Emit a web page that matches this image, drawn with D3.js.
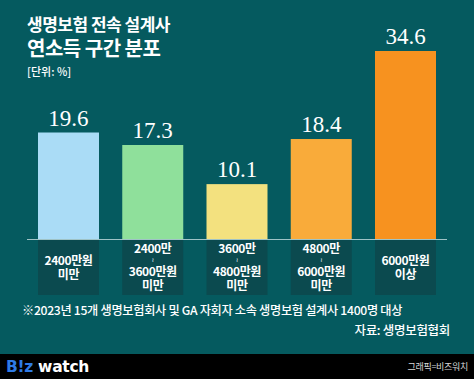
<!DOCTYPE html>
<html><head><meta charset="utf-8">
<script src="https://cdn.jsdelivr.net/npm/d3@7"></script>
<style>
html,body{margin:0;padding:0;background:#055a5f;}
svg{display:block;}
</style></head>
<body>
<svg id="chart" width="474" height="379"></svg>
<script>
const categories = ["c1","c2","c3","c4","c5"];
const values = [19.6, 17.3, 10.1, 18.4, 34.6];
const valueLabels = ["19.6","17.3","10.1","18.4","34.6"];
const categoryLabels = [
  ["2400만원","미만"],
  ["2400만","≀","3600만원","미만"],
  ["3600만","≀","4800만원","미만"],
  ["4800만","≀","6000만원","미만"],
  ["6000만원","이상"]
];
const barColors = ["#aadcf6","#8fe09b","#f3e17f","#f9ab3a","#f7921f"];
const titleLines = ["생명보험 전속 설계사","연소득 구간 분포"];
const unitText = "[단위: %]";
const noteText = "※2023년 15개 생명보험회사 및 GA 자회자 소속 생명보험 설계사 1400명 대상";
const sourceText = "자료: 생명보험협회";
const creditText = "그래픽=비즈워치";

const W = 474, H = 379;
const svg = d3.select("#chart");
const sans = "'Noto Sans CJK KR','Noto Sans',sans-serif";

svg.append("rect").attr("width", W).attr("height", H).attr("fill", "#055a5f");

// title
svg.append("text").attr("x", 27).attr("y", 31).attr("fill", "#fff")
  .attr("font-family", sans).attr("font-weight", 700).attr("font-size", 17)
  .attr("letter-spacing", -0.5).text(titleLines[0]);
svg.append("text").attr("x", 27).attr("y", 56).attr("fill", "#fff")
  .attr("font-family", sans).attr("font-weight", 700).attr("font-size", 20)
  .attr("letter-spacing", -0.5).text(titleLines[1]);
svg.append("text").attr("x", 27).attr("y", 76).attr("fill", "#fff")
  .attr("font-family", sans).attr("font-weight", 500).attr("font-size", 11)
  .text(unitText);

const x = d3.scaleBand().domain(categories).range([38, 436]).paddingInner(0.276).paddingOuter(0);
const baseY = 239;
const y = d3.scaleLinear().domain([0, 34.6]).range([baseY, 51]);

// category boxes
const g = svg.append("g");
g.selectAll("rect.box").data(categories).join("rect").attr("class", "box")
  .attr("x", d => x(d)).attr("y", baseY).attr("width", x.bandwidth()).attr("height", 56)
  .attr("fill", "#0b4a4f");

// bars
g.selectAll("rect.bar").data(values).join("rect").attr("class", "bar")
  .attr("x", (d, i) => x(categories[i])).attr("y", d => y(d))
  .attr("width", x.bandwidth()).attr("height", d => baseY - y(d))
  .attr("fill", (d, i) => barColors[i]);

// axis line
svg.append("line").attr("x1", 27).attr("x2", 447).attr("y1", baseY + 0.5).attr("y2", baseY + 0.5)
  .attr("stroke", "#9fc3c6").attr("stroke-width", 1);

// value labels
g.selectAll("text.val").data(values).join("text").attr("class", "val")
  .attr("x", (d, i) => x(categories[i]) + x.bandwidth() / 2).attr("y", d => y(d) - 7)
  .attr("text-anchor", "middle").attr("fill", "#fff")
  .attr("font-family", "'Liberation Serif','DejaVu Serif',serif").attr("font-size", 23)
  .text((d, i) => valueLabels[i]);

// category labels
categoryLabels.forEach((lines, i) => {
  const cx = x(categories[i]) + x.bandwidth() / 2;
  let ys;
  if (lines.length === 2) ys = [265, 279];
  else ys = [253, 261.5, 275.5, 289.5];
  lines.forEach((t, j) => {
    const tilde = t === "≀";
    svg.append("text").attr("x", cx).attr("y", ys[j]).attr("text-anchor", "middle")
      .attr("fill", tilde ? "#cfdfe0" : "#fff").attr("font-family", tilde ? "'DejaVu Sans',sans-serif" : sans)
      .attr("font-weight", 700).attr("font-size", tilde ? 6 : 12).attr("letter-spacing", -0.4)
      .text(t);
  });
});

// note
svg.append("text").attr("x", 22).attr("y", 315).attr("fill", "#fff")
  .attr("font-family", sans).attr("font-weight", 500).attr("font-size", 12.2)
  .attr("letter-spacing", -0.3).text(noteText);
svg.append("text").attr("x", 450).attr("y", 335).attr("text-anchor", "end").attr("fill", "#fff")
  .attr("font-family", sans).attr("font-weight", 500).attr("font-size", 12.5)
  .attr("letter-spacing", -0.3).text(sourceText);

// footer
svg.append("rect").attr("x", 0).attr("y", 354).attr("width", W).attr("height", H - 354).attr("fill", "#000");
const logo = svg.append("text").attr("x", 6).attr("y", 372).attr("font-family", "'DejaVu Sans','Noto Sans',sans-serif")
  .attr("font-weight", 700).attr("font-size", 15.5).attr("letter-spacing", -0.3);
logo.append("tspan").attr("fill", "#2f7be6").text("B!z");
logo.append("tspan").attr("fill", "#fff").text(" watch");
svg.append("text").attr("x", 468).attr("y", 370).attr("text-anchor", "end").attr("fill", "#d8d8d8")
  .attr("font-family", sans).attr("font-size", 9).attr("letter-spacing", -0.3).text(creditText);
</script>
</body></html>
